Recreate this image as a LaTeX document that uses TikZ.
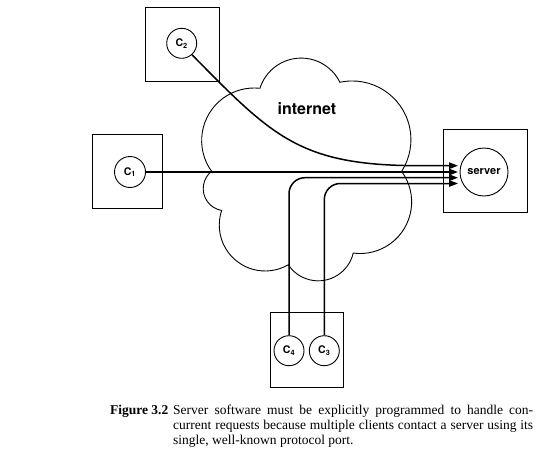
\documentclass[tikz,border=0pt]{standalone}
\usepackage{fontspec}
\setmainfont{Liberation Serif}
\newfontfamily\hv{TeX Gyre Heros}
\usetikzlibrary{arrows.meta}
\begin{document}
\begin{tikzpicture}[x=1pt,y=1pt,
  box/.style={draw,line width=0.9pt},
  client/.style={draw,circle,line width=0.9pt,minimum size=30pt,inner sep=0pt,font=\hv\bfseries\fontsize{10.5}{12}\selectfont},
  srv/.style={draw,circle,line width=0.9pt,minimum size=48pt,inner sep=0pt,font=\hv\bfseries\fontsize{11}{13}\selectfont},
  cloudline/.style={draw,line width=0.9pt},
  conn/.style={line width=1.5pt,-{Triangle[length=9pt,width=6.5pt]}},
]
\useasboundingbox (0,0) rectangle (559,-463);

% boxes
\draw[box] (145,-7) rectangle (219,-81);
\draw[box] (92,-134) rectangle (162,-208);
\draw[box] (443,-129) rectangle (527,-212);
\draw[box] (270,-312) rectangle (343,-387);

% cloud
\draw[cloudline] (211.7,-171.5)
  arc[start angle=216, end angle=83.8, radius=52.6]
  arc[start angle=162.5, end angle=26.1, radius=43.2]
  arc[start angle=102.1, end angle=-32.7, radius=58.7]
  arc[start angle=36.3, end angle=-97.6, radius=51.6]
  arc[start angle=-13.2, end angle=-146.4, radius=35.97]
  arc[start angle=-59.8, end angle=-198.6, radius=45.9]
  arc[start angle=260.4, end angle=128.2, radius=22.14]
  -- cycle;
\node[font=\hv\bfseries\fontsize{16}{18}\selectfont] (inet) at (307,-109) {internet};

% clients and server
\node[client] (C2) at (181.7,-43.3) {C\textsubscript{2}};
\node[client,minimum size=31pt] (C1) at (130,-172) {C\textsubscript{1}};
\node[client] (C4) at (289,-350.7) {C\textsubscript{4}};
\node[client] (C3) at (324.3,-350.7) {C\textsubscript{3}};
\node[srv] (server) at (484,-172) {server};

% arrow end points at the server
\coordinate (s1) at (458,-165.7);
\coordinate (s2) at (458,-172);
\coordinate (s3) at (458,-177.7);
\coordinate (s4) at (458,-183.5);

% connectors
\draw[conn] (C2.-48) .. controls (273,-137) and (300,-165.7) .. (420,-165.7) -- (s1);
\draw[conn] (C1.east) -- (s2);
\draw[conn,rounded corners=16pt] (C4.north) |- (s3);
\draw[conn,rounded corners=16pt] (C3.north) |- (s4);

% caption
\node[anchor=base east,inner sep=0pt,font=\bfseries\fontsize{13.5}{15}\selectfont] (figlab) at (168.5,-414) {Figure 3.2};
\node[anchor=base west,inner sep=0pt,text width=360pt,align=justify,font=\fontsize{13.5}{15}\selectfont] (cap) at (173,-414)
  {Server software must be explicitly programmed to handle con-\linebreak current requests because multiple clients contact a server using its\linebreak single, well-known protocol port.};
\end{tikzpicture}
\end{document}
